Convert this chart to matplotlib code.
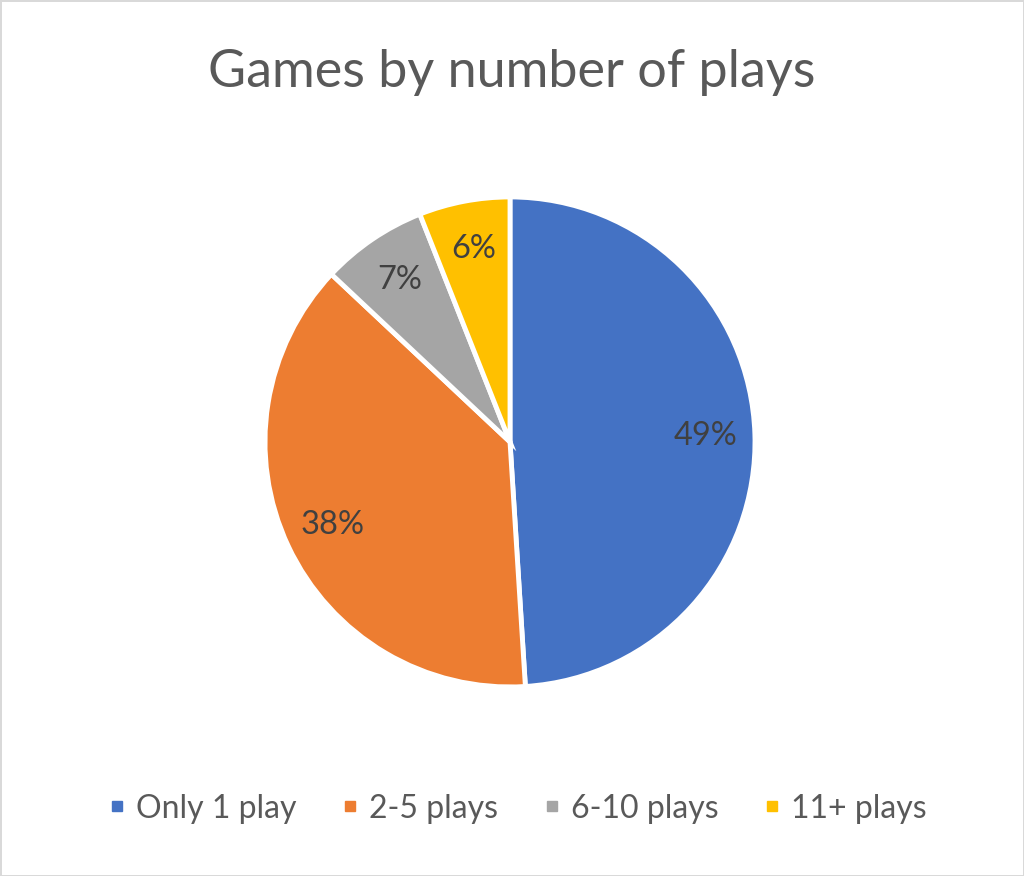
import matplotlib
matplotlib.use('Agg')
from matplotlib import pyplot as plt
from matplotlib.lines import Line2D

categories = ['Only 1 play', '2-5 plays', '6-10 plays', '11+ plays']
shares = [49, 38, 7, 6]
colors = ['#4472c4', '#ed7d31', '#a5a5a5', '#ffc000']

plt.rcParams['font.family'] = ['Lato', 'DejaVu Sans']

fig = plt.figure(figsize=(10.24, 8.76), dpi=100)
fig.patch.set_facecolor('white')
fig.patch.set_edgecolor('#d9d9d9')
fig.patch.set_linewidth(2)

ax = fig.add_axes([0.2588, 0.2158, 0.4785, 0.5594])
wedges, texts = ax.pie(shares, colors=colors, startangle=90, counterclock=False,
                       wedgeprops={'edgecolor': 'white', 'linewidth': 3.5},
                       labels=[f'{v}%' for v in shares], labeldistance=0.8,
                       textprops={'fontsize': 23.5, 'color': '#404040',
                                  'ha': 'center', 'va': 'center'})
ax.set_xlim(-1, 1)
ax.set_ylim(-1, 1)
ax.set_aspect('equal')

fig.text(0.5, 0.917, 'Games by number of plays', ha='center', va='center',
         fontsize=37.5, color='#595959')

handles = [Line2D([], [], linestyle='none', marker='s', markersize=7.5,
                  markerfacecolor=c, markeredgecolor=c) for c in colors]
fig.legend(handles, categories, loc='center', bbox_to_anchor=(0.505, 0.077),
           ncol=4, frameon=False, fontsize=23, labelcolor='#595959',
           handletextpad=0.3, columnspacing=1.37, handlelength=0.6)

fig.savefig('out.png', dpi=100)
